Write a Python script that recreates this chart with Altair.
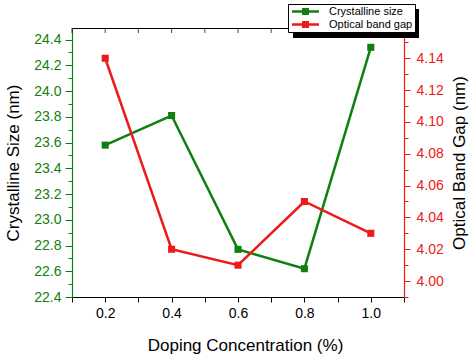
import altair as alt
import pandas as pd

# ---- data ----
doping = [0.2, 0.4, 0.6, 0.8, 1.0]
crystal_size = [23.58, 23.81, 22.77, 22.62, 24.34]
band_gap = [4.14, 4.02, 4.01, 4.05, 4.03]
series_names = ["Crystalline size", "Optical band gap"]

x_ticks = [0.1, 0.2, 0.3, 0.4, 0.5, 0.6, 0.7, 0.8, 0.9, 1.0, 1.1]
left_ticks = [22.4, 22.5, 22.6, 22.7, 22.8, 22.9, 23.0, 23.1, 23.2, 23.3, 23.4,
              23.5, 23.6, 23.7, 23.8, 23.9, 24.0, 24.1, 24.2, 24.3, 24.4]
right_ticks = [3.99, 4.00, 4.01, 4.02, 4.03, 4.04, 4.05, 4.06, 4.07, 4.08, 4.09,
               4.10, 4.11, 4.12, 4.13, 4.14, 4.15, 4.16]

GREEN = "#0f7f0f"
RED = "#ec1a1a"
FONT = "Liberation Sans"

df_c = pd.DataFrame({"x": doping, "y": crystal_size, "series": series_names[0]})
df_b = pd.DataFrame({"x": doping, "y": band_gap, "series": series_names[1]})
df_t = pd.DataFrame({"x": x_ticks})
df_one = pd.DataFrame({"a": [0]})

W, H = 332, 269

xscale = alt.Scale(domain=[0.1, 1.1], nice=False, zero=False)
color_scale = alt.Scale(domain=series_names, range=[GREEN, RED])

bottom_axis = alt.Axis(
    orient="bottom", values=x_ticks, title="Doping Concentration (%)",
    labelExpr="indexof([2,4,6,8,10], round(datum.value*10)) >= 0 ? format(datum.value, '.1f') : ''",
    grid=False, domainColor="black", tickColor="black", tickSize=5, labelPadding=4,
    labelFontSize=14, labelColor="black", labelFont=FONT,
    titleFont=FONT, titleFontSize=17, titleFontWeight="normal", titleColor="black",
    titleX=173, titleY=48, titleBaseline="middle", titleAlign="center",
)
top_axis = alt.Axis(orient="top", labels=False, ticks=False, title=None, grid=False,
                    domainColor="black")

left_axis = alt.Axis(
    orient="left", values=left_ticks, title="Crystalline Size (nm)",
    labelExpr="round(datum.value*10) % 2 == 0 ? format(datum.value, '.1f') : ''",
    tickSize={"condition": {"test": "round(datum.value*10) % 2 == 0", "value": 7}, "value": 4},
    grid=False, domainColor=GREEN, tickColor=GREEN, domainWidth=1.2,
    labelColor=GREEN, labelFontSize=14, labelFont=FONT, labelPadding=4,
    titleFont=FONT, titleFontSize=17, titleFontWeight="normal", titleColor="black",
    titleAngle=270, titleX=-59, titleY=H / 2, titleAlign="center", titleBaseline="middle",
)
right_axis = alt.Axis(
    orient="right", values=right_ticks, title="Optical Band Gap (nm)",
    labelExpr="round(datum.value*100) % 2 == 0 ? format(datum.value, '.2f') : ''",
    tickSize={"condition": {"test": "round(datum.value*100) % 2 == 0", "value": 6}, "value": 4},
    grid=False, domainColor=RED, tickColor=RED, domainWidth=1.2,
    labelColor=RED, labelFontSize=14, labelFont=FONT, labelPadding=6,
    titleFont=FONT, titleFontSize=17, titleFontWeight="normal", titleColor="black",
    titleAngle=270, titleX=55, titleY=H / 2, titleAlign="center", titleBaseline="middle",
)

legend = alt.Legend(
    title=None, orient="none", legendX=216, legendY=-24,
    fillColor="white", strokeColor="black", padding=2,
    symbolType="M-2.7,-0.25 H2.7 V0.25 H-2.7 Z M-0.7,-0.7 H0.7 V0.7 H-0.7 Z",
    symbolSize=100, symbolStrokeWidth=0, symbolOffset=10,
    labelFontSize=11, labelFont=FONT, labelColor="black", labelOffset=18, rowPadding=1,
)

yc = alt.Y("y:Q", scale=alt.Scale(domain=[22.4, 24.49], nice=False, zero=False), axis=left_axis)
yb = alt.Y("y:Q", scale=alt.Scale(domain=[3.99, 4.159], nice=False, zero=False), axis=right_axis)
xb = alt.X("x:Q", scale=xscale, axis=bottom_axis)
xt = alt.X("x:Q", scale=xscale, axis=top_axis)

green_line = alt.Chart(df_c).mark_line(color=GREEN, strokeWidth=2.5).encode(x=xb, y=yc)
green_pts = alt.Chart(df_c).mark_point(shape="square", filled=True, size=50, opacity=1).encode(
    x=xb, y=yc, color=alt.Color("series:N", scale=color_scale, legend=legend))
green = alt.layer(green_line, green_pts)

red_line = alt.Chart(df_b).mark_line(color=RED, strokeWidth=2.5).encode(x=xt, y=yb)
red_pts = alt.Chart(df_b).mark_point(shape="square", filled=True, size=50, opacity=1).encode(
    x=xt, y=yb, color=alt.Color("series:N", scale=color_scale, legend=legend))
red = alt.layer(red_line, red_pts)

top_ticks = alt.Chart(df_t).mark_tick(color="black", size=5, thickness=1, orient="vertical").encode(
    x=alt.X("x:Q", scale=xscale, axis=None), y=alt.value(2.5))

shadow = alt.Chart(df_one).mark_rect(color="black").encode(
    x=alt.value(221), x2=alt.value(347), y=alt.value(-19), y2=alt.value(10))

chart = alt.layer(shadow, green, red, top_ticks).resolve_scale(
    y="independent").resolve_axis(x="independent").properties(
    width=W, height=H,
    autosize=alt.AutoSizeParams(type="none"),
    padding={"left": 72, "top": 28, "right": 70, "bottom": 58},
).configure_view(stroke=None).configure(background="white")

chart.save("out.html", embed_options={"renderer": "svg", "actions": False})
